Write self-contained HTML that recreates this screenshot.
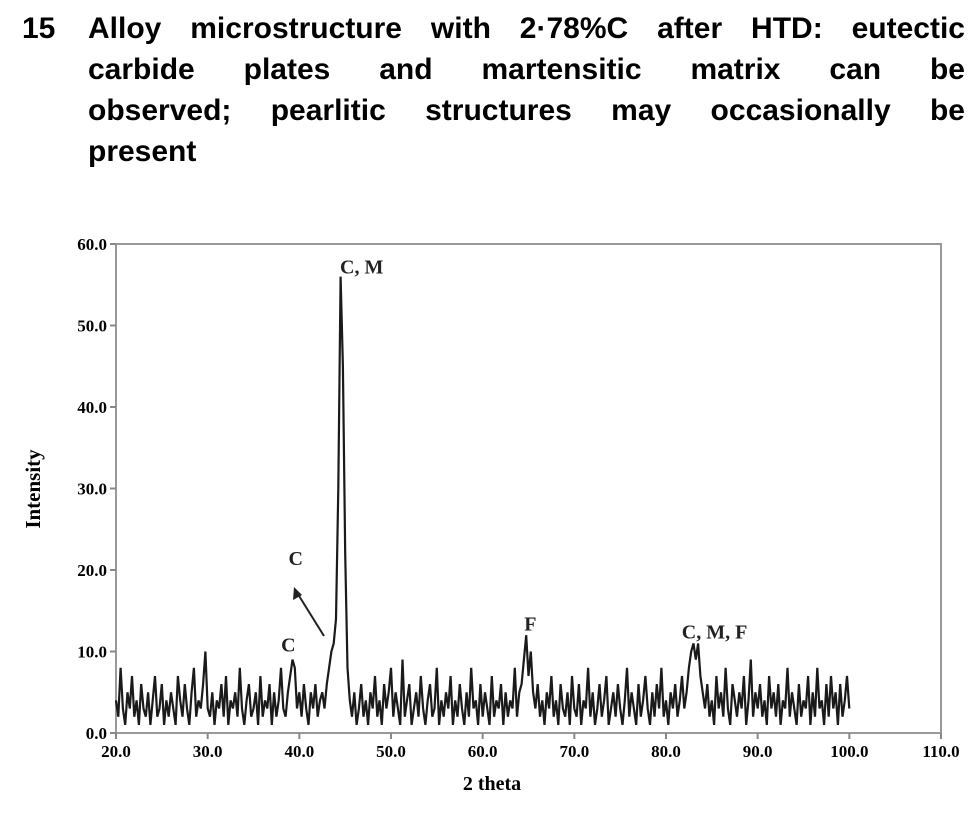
<!DOCTYPE html>
<html><head><meta charset="utf-8"><style>
body{margin:0;width:975px;height:816px;background:#fff;overflow:hidden;position:relative}
.cap{position:absolute;font-family:"Liberation Sans",sans-serif;font-weight:bold;font-size:30px;color:#000;line-height:30px;white-space:nowrap}
.ln{position:absolute;left:88px;width:877px;font-family:"Liberation Sans",sans-serif;font-weight:bold;font-size:30px;line-height:30px;text-align:justify;text-align-last:justify;white-space:normal}
</style></head><body>
<div class="cap" style="left:22px;top:14px">15</div>
<div>
<div class="ln" style="top:14px">Alloy microstructure with 2·78%C after HTD: eutectic</div>
<div class="ln" style="top:55px">carbide plates and martensitic matrix can be</div>
<div class="ln" style="top:96px">observed; pearlitic structures may occasionally be</div>
<div class="ln" style="top:137px;text-align-last:left">present</div>
</div>
<svg id="chart" width="975" height="816" style="position:absolute;left:0;top:0">
<g id="g"></g>
</svg>
<script>
const xTicks=[20,30,40,50,60,70,80,90,100,110];
const yTicks=[0,10,20,30,40,50,60];
const startAngle=20, stepAngle=0.25;
const intensity=[4,2,8,3,1,5,3,7,2,4,1,6,3,2,5,1,4,7,2,3,6,1,4,2,5,3,1,7,4,2,6,3,1,5,8,2,4,3,6,10,3,
2,5,1,4,3,6,2,7,1,4,3,5,2,8,3,1,4,6,2,3,5,1,7,2,4,3,6,1,5,2,4,8,3,2,5,7,9,8,3,5,
2,6,3,1,5,3,6,2,4,5,3,6,8,10,11,14,30,56,45,22,8,4,2,5,1,3,6,2,4,1,5,3,7,2,4,1,6,3,5,8,
2,5,3,1,9,2,4,6,1,3,5,2,7,3,1,4,6,2,3,8,1,4,2,5,3,7,1,4,2,6,3,1,5,2,8,3,4,1,6,2,
5,3,1,7,2,4,3,6,1,5,2,4,3,8,2,5,6,9,12,7,10,5,3,6,2,4,1,5,3,7,2,4,1,6,3,2,5,1,7,3,
2,6,1,4,3,8,2,5,1,3,6,2,4,7,1,3,5,2,6,3,1,4,8,2,5,3,1,6,2,4,7,3,1,5,2,6,3,8,2,4,
1,5,3,6,2,4,7,3,5,8,10,11,9,11,7,5,3,6,2,4,1,7,3,5,2,8,3,1,6,4,2,5,3,7,1,4,9,2,5,3,
6,2,4,1,7,3,5,2,6,1,4,3,8,2,5,3,1,6,2,4,3,7,1,5,2,8,3,4,1,6,2,7,3,5,1,6,2,4,7,3];
const peakLabels=["C, M","C","C","F","C, M, F"];
const peakX=[46.8,39.6,38.8,65.2,85.3];
const peakY=[56.4,20.6,10.0,12.6,11.6];
const X0=20,X1=110,Y0=0,Y1=60;
const L=116,R=941,T=244,B=733;
const sx=v=>L+(v-X0)/(X1-X0)*(R-L);
const sy=v=>B-(v-Y0)/(Y1-Y0)*(B-T);
const NS="http://www.w3.org/2000/svg";
const g=document.getElementById('g');
function mk(tag,at,txt){const e=document.createElementNS(NS,tag);for(const k in at)e.setAttribute(k,at[k]);if(txt!==undefined)e.textContent=txt;g.appendChild(e);return e;}
let e=mk('rect',{x:L,y:T,width:R-L,height:B-T,fill:'none',stroke:'#999','stroke-width':2});


const font='"Liberation Serif",serif';
xTicks.forEach(t=>{
 let l=mk('line',{x1:sx(t),x2:sx(t),y1:B,y2:B+6,stroke:'#888','stroke-width':2});
 
 
 let tx=mk('text',{x:sx(t),y:B+24,'text-anchor':'middle','font-family':font,'font-weight':'bold','font-size':17},t.toFixed(1));
 
 
});
yTicks.forEach(t=>{
 let l=mk('line',{x1:L-6,x2:L,y1:sy(t),y2:sy(t),stroke:'#888','stroke-width':2});
 
 
 let tx=mk('text',{x:L-9,y:sy(t)+6,'text-anchor':'end','font-family':font,'font-weight':'bold','font-size':17},t.toFixed(1));
 
 
});
let xt=mk('text',{x:492,y:790,'text-anchor':'middle','font-family':font,'font-weight':'bold','font-size':20},'2 theta');


let yt=mk('text',{x:0,y:0,transform:'translate(40,489) rotate(-90)','text-anchor':'middle','font-family':font,'font-weight':'bold','font-size':21},'Intensity');


const pts=intensity.map((v,i)=>sx(startAngle+i*stepAngle).toFixed(1)+','+sy(v).toFixed(1)).join(' ');
let pl=mk('polyline',{points:pts,fill:'none',stroke:'#1a1a1a','stroke-width':2.2,'stroke-linejoin':'miter'});


peakLabels.forEach((s,i)=>{
 let tx=mk('text',{x:sx(peakX[i]),y:sy(peakY[i]),'text-anchor':'middle','font-family':font,'font-weight':'bold','font-size':20,fill:'#222'},s);
 
 
});
let ar=mk('line',{x1:324,y1:636,x2:296,y2:591,stroke:'#222','stroke-width':2});


let ah=mk('polygon',{points:'294,587 293,600 302,595',fill:'#222'});


</script>
</body></html>
